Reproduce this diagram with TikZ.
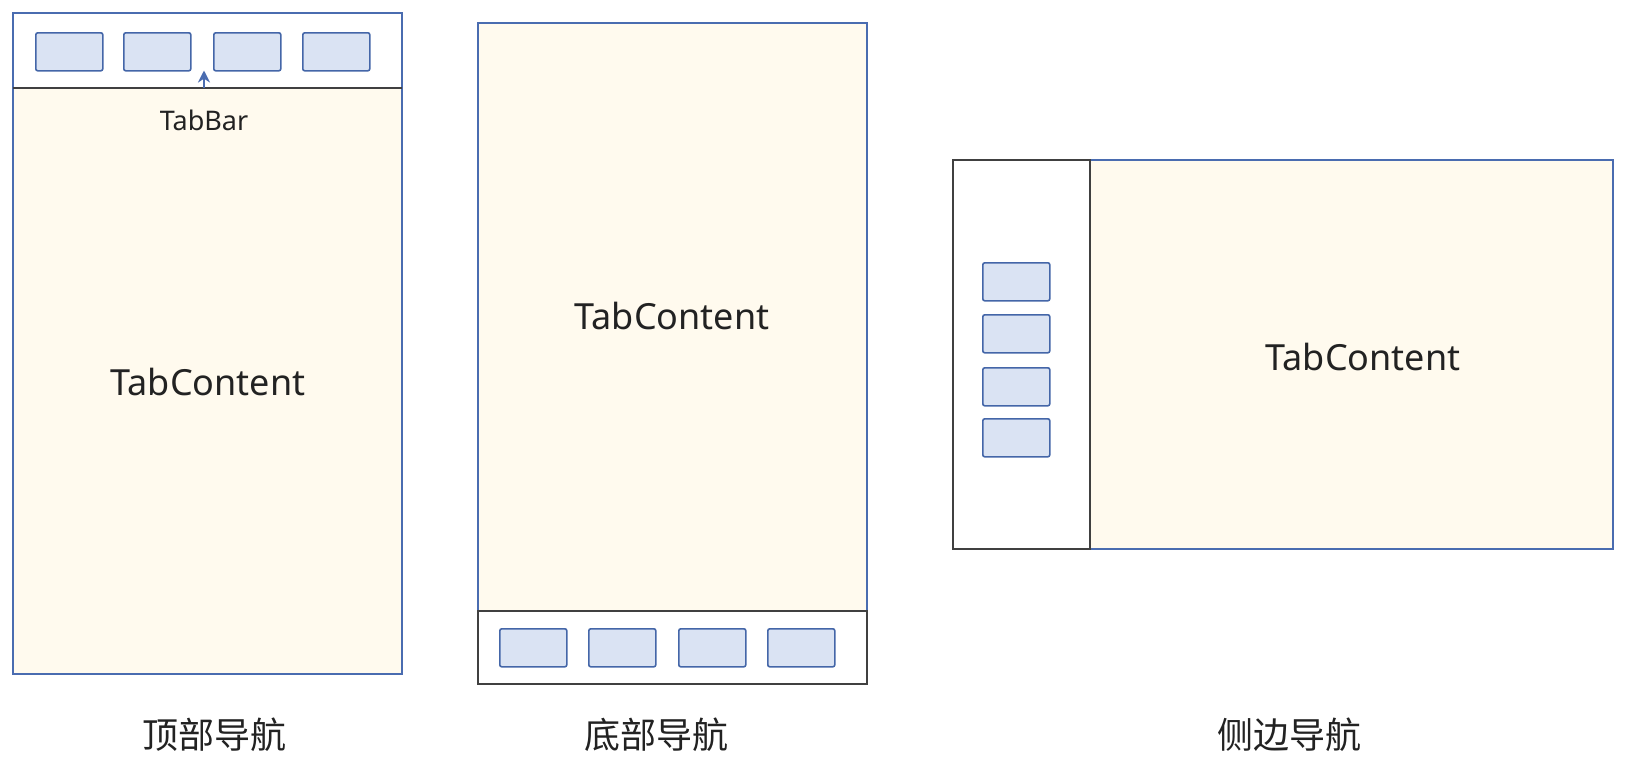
\documentclass[tikz,border=0pt]{standalone}
\usepackage{fontspec}
\setmainfont{Noto Sans}
\newfontfamily\cjk{Noto Sans CJK SC}
\usetikzlibrary{arrows.meta}
\definecolor{bordblue}{HTML}{4A6CB0}
\definecolor{tabblue}{HTML}{DAE3F3}
\definecolor{tabedge}{HTML}{4466A8}
\definecolor{cream}{HTML}{FFFAEE}
\definecolor{darkline}{HTML}{404040}
\definecolor{txt}{HTML}{222222}
\begin{document}
\begin{tikzpicture}[x=0.5pt,y=-0.5pt,
  tabbox/.style={draw=tabedge,fill=tabblue,line width=0.8pt,rounded corners=1pt,
    minimum width=33.5pt,minimum height=19pt,inner sep=0pt,anchor=north west},
  contentbox/.style={draw=bordblue,fill=cream,line width=0.75pt},
  barbox/.style={draw=darkline,fill=white,line width=1pt},
  biglabel/.style={font=\fontsize{18}{22}\selectfont,text=txt},
  smalllabel/.style={font=\fontsize{13.5}{16}\selectfont,text=txt},
  cnlabel/.style={font=\cjk\fontsize{18}{22}\selectfont,text=txt}]
\useasboundingbox (0,0) rectangle (1630,766);
% ---------- panel 1: top navigation ----------
\draw[contentbox] (13,13) rectangle (402,674);
\fill[white] (13.6,13.6) rectangle (401.4,88);
\draw[bordblue,line width=0.75pt] (13,88) |- (402,13) -- (402,88);
\draw[darkline,line width=1pt] (13,88) -- (402,88);
\node[tabbox] (t1a) at (35,32) {};
\node[tabbox] (t1b) at (123,32) {};
\node[tabbox] (t1c) at (213,32) {};
\node[tabbox] (t1d) at (302,32) {};
\coordinate (arrowbase) at (204,88);
\coordinate (arrowtip) at (204,70.5);
\draw[bordblue,line width=1.3pt,-{Stealth[length=6pt,width=6pt]}] (arrowbase) -- (arrowtip);
\node[smalllabel] (tabbar) at (204,120) {TabBar};
\node[biglabel] (c1) at (208,382) {TabContent};
\node[cnlabel] (n1) at (214,735) {顶部导航};
% ---------- panel 2: bottom navigation ----------
\draw[contentbox] (478,23) rectangle (867,611);
\draw[barbox] (478,611) rectangle (867,684);
\node[tabbox] (t2a) at (499,628) {};
\node[tabbox] (t2b) at (588,628) {};
\node[tabbox] (t2c) at (678,628) {};
\node[tabbox] (t2d) at (767,628) {};
\node[biglabel] (c2) at (672,316) {TabContent};
\node[cnlabel] (n2) at (656,735) {底部导航};
% ---------- panel 3: side navigation ----------
\draw[contentbox] (1090,160) rectangle (1613,549);
\draw[barbox] (953,160) rectangle (1090,549);
\node[tabbox] (t3a) at (982,262) {};
\node[tabbox] (t3b) at (982,314) {};
\node[tabbox] (t3c) at (982,367) {};
\node[tabbox] (t3d) at (982,418) {};
\node[biglabel] (c3) at (1363,357) {TabContent};
\node[cnlabel] (n3) at (1289,735) {侧边导航};
\end{tikzpicture}
\end{document}
